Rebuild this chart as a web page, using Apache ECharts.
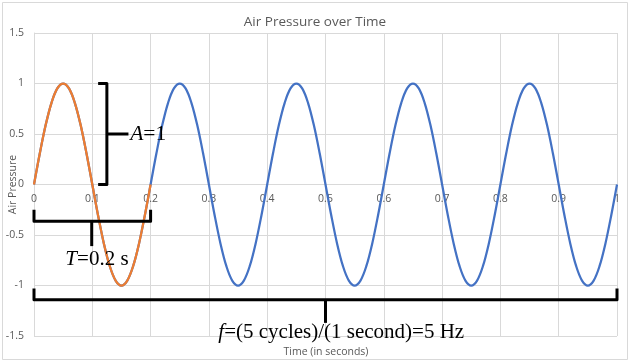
<!DOCTYPE html>
<html><head><meta charset="utf-8">
<script src="https://cdn.jsdelivr.net/npm/echarts@6/dist/echarts.min.js"></script>
<style>html,body{margin:0;padding:0;background:#fff}#c{width:630px;height:362px}</style>
</head><body><div id="c"></div>
<script>
// Time samples (seconds)
var times = [0,0.01,0.02,0.03,0.04,0.05,0.06,0.07,0.08,0.09,
0.1,0.11,0.12,0.13,0.14,0.15,0.16,0.17,0.18,0.19,
0.2,0.21,0.22,0.23,0.24,0.25,0.26,0.27,0.28,0.29,
0.3,0.31,0.32,0.33,0.34,0.35,0.36,0.37,0.38,0.39,
0.4,0.41,0.42,0.43,0.44,0.45,0.46,0.47,0.48,0.49,
0.5,0.51,0.52,0.53,0.54,0.55,0.56,0.57,0.58,0.59,
0.6,0.61,0.62,0.63,0.64,0.65,0.66,0.67,0.68,0.69,
0.7,0.71,0.72,0.73,0.74,0.75,0.76,0.77,0.78,0.79,
0.8,0.81,0.82,0.83,0.84,0.85,0.86,0.87,0.88,0.89,
0.9,0.91,0.92,0.93,0.94,0.95,0.96,0.97,0.98,0.99,1];
// Air pressure (blue, full second)
var pressure = [0,0.309,0.588,0.809,0.951,1,0.951,0.809,0.588,0.309,
0,-0.309,-0.588,-0.809,-0.951,-1,-0.951,-0.809,-0.588,-0.309,
0,0.309,0.588,0.809,0.951,1,0.951,0.809,0.588,0.309,
0,-0.309,-0.588,-0.809,-0.951,-1,-0.951,-0.809,-0.588,-0.309,
0,0.309,0.588,0.809,0.951,1,0.951,0.809,0.588,0.309,
0,-0.309,-0.588,-0.809,-0.951,-1,-0.951,-0.809,-0.588,-0.309,
0,0.309,0.588,0.809,0.951,1,0.951,0.809,0.588,0.309,
0,-0.309,-0.588,-0.809,-0.951,-1,-0.951,-0.809,-0.588,-0.309,
0,0.309,0.588,0.809,0.951,1,0.951,0.809,0.588,0.309,
0,-0.309,-0.588,-0.809,-0.951,-1,-0.951,-0.809,-0.588,-0.309,
0];
// First period (orange)
var periodTimes = [0,0.01,0.02,0.03,0.04,0.05,0.06,0.07,0.08,0.09,
0.1,0.11,0.12,0.13,0.14,0.15,0.16,0.17,0.18,0.19,0.2];
var periodValues = [0,0.309,0.588,0.809,0.951,1,0.951,0.809,0.588,0.309,
0,-0.309,-0.588,-0.809,-0.951,-1,-0.951,-0.809,-0.588,-0.309,0];
var xTicks = [0,0.1,0.2,0.3,0.4,0.5,0.6,0.7,0.8,0.9,1];
var yTicks = [-1.5,-1,-0.5,0,0.5,1,1.5];
var titleText = 'Air Pressure over Time';
var xName = 'Time (in seconds)';
var yName = 'Air Pressure';

function pairs(xs, ys){ return xs.map(function(x,i){return [x, ys[i]];}); }

var chart = echarts.init(document.getElementById('c'), null, {renderer:'canvas'});
var gray = '#595959', grid = '#d9d9d9';
var option = {
  animation: false,
  backgroundColor: '#fff',
  title: {text: titleText, left: 'center', top: 10,
    textStyle: {fontFamily: 'Open Sans', fontSize: 13.5, fontWeight: 'normal', color: gray}},
  grid: {left: 34, right: 13, top: 33, bottom: 26, containLabel: false, outerBoundsMode: 'none'},
  xAxis: {type: 'value', min: xTicks[0], max: xTicks[xTicks.length-1], interval: 0.1,
    position: 'bottom', offset: 0,
    axisLine: {onZero: false, lineStyle: {color: grid}},
    axisTick: {show: false},
    axisLabel: {color: gray, fontFamily: 'Open Sans', fontSize: 10.5, margin: 9,
      formatter: function(v){ return String(Math.round(v*10)/10); }},
    splitLine: {show: true, lineStyle: {color: grid}}},
  yAxis: {type: 'value', min: yTicks[0], max: yTicks[yTicks.length-1], interval: 0.5,
    name: yName, nameLocation: 'middle', nameGap: 15, nameRotate: 90, nameMoveOverlap: false,
    nameTextStyle: {color: gray, fontFamily: 'Open Sans', fontSize: 10.5},
    axisLine: {show: true, onZero: false, lineStyle: {color: grid}},
    axisTick: {show: false},
    axisLabel: {color: gray, fontFamily: 'Open Sans', fontSize: 10.5, margin: 10,
      formatter: function(v){ return String(v); }},
    splitLine: {show: true, lineStyle: {color: grid}}},
  series: [
    {type: 'line', data: pairs(times, pressure), smooth: 0.35, showSymbol: false,
      lineStyle: {color: '#4472C4', width: 2.25}, z: 2},
    {type: 'line', data: pairs(periodTimes, periodValues), smooth: 0.35, showSymbol: false,
      lineStyle: {color: '#ED7D31', width: 2.25}, z: 3}
  ]
};
chart.setOption(option);

function P(x, y){ return chart.convertToPixel({gridIndex: 0}, [x, y]); }
// Place the horizontal axis where the value axis crosses zero (Excel-style)
var zeroY = P(0, 0)[1], bottomY = P(0, yTicks[0])[1];
chart.setOption({xAxis: {offset: zeroY - bottomY}});

function poly(pts){
  return {type: 'polyline', shape: {points: pts.map(function(p){return P(p[0], p[1]);})},
    style: {stroke: '#000', lineWidth: 3, fill: null, lineJoin: 'round', lineCap: 'butt'}, z: 10};
}
var mathFont = '"Liberation Serif"';
function mathText(varName, rest, at, size, align){
  var p = P(at[0], at[1]);
  return {type: 'text', x: p[0], y: p[1], z: 10,
    style: {text: '{i|' + varName + '}{r|' + rest + '}', align: align || 'left', verticalAlign: 'middle',
      rich: {
        i: {fontFamily: mathFont, fontStyle: 'italic', fontSize: size, fill: '#000', color: '#000'},
        r: {fontFamily: mathFont, fontSize: size, fill: '#000', color: '#000'}
      }}};
}
var graphics = [
  {type: 'rect', shape: {x: 2.5, y: 2.5, width: 625, height: 357}, style: {stroke: '#d9d9d9', fill: null, lineWidth: 1}, z: 0},
  // A brace
  poly([[0.11, 1], [0.125, 1], [0.125, 0], [0.11, 0]]),
  poly([[0.125, 0.5], [0.162, 0.5]]),
  mathText('A', '=1', [0.165, 0.5], 21.5),
  // T brace
  poly([[0, -0.25], [0, -0.365], [0.2, -0.365], [0.2, -0.25]]),
  poly([[0.099, -0.365], [0.099, -0.61]]),
  mathText('T', '=0.2 s', [0.108, -0.74], 21, 'center'),
  // f brace
  poly([[0, -1.03], [0, -1.14], [1, -1.14], [1, -1.03]]),
  poly([[0.5, -1.14], [0.5, -1.37]]),
  mathText('f', '=(5 cycles)/(1 second)=5 Hz', [0.527, -1.47], 21, 'center'),
  {type: 'text', x: 326, y: 352, z: 10,
    style: {text: xName, fill: gray, font: '10.5px "Open Sans"', align: 'center', verticalAlign: 'middle'}}
];
chart.setOption({graphic: graphics});
</script></body></html>
